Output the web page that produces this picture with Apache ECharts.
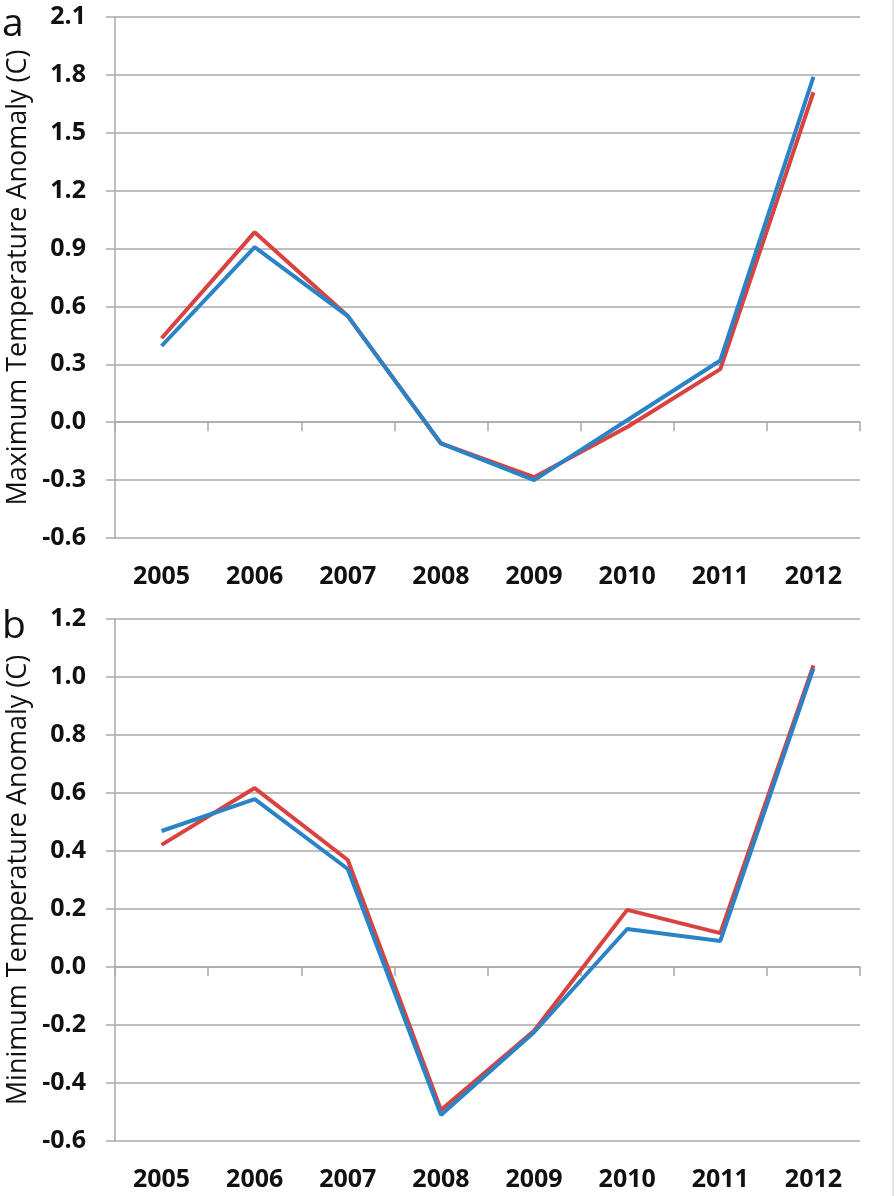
<!DOCTYPE html>
<html>
<head>
<meta charset="utf-8">
<script src="https://cdn.jsdelivr.net/npm/echarts@6/dist/echarts.min.js"></script>
<style>
  html, body { margin: 0; padding: 0; background: #fff; }
  #chart { width: 896px; height: 1196px; }
</style>
</head>
<body>
<div id="chart"></div>
<script>
// years on the category axis
var years = ['2005', '2006', '2007', '2008', '2009', '2010', '2011', '2012'];

// panel a - maximum temperature anomaly
var maxRed  = [0.435, 0.985, 0.55, -0.11, -0.285, -0.025, 0.275, 1.71];
var maxBlue = [0.395, 0.907, 0.55, -0.11, -0.30, 0.01, 0.32, 1.79];

// panel b - minimum temperature anomaly
var minRed  = [0.421, 0.617, 0.369, -0.493, -0.22, 0.197, 0.117, 1.04];
var minBlue = [0.469, 0.579, 0.338, -0.51, -0.225, 0.131, 0.09, 1.03];

var RED = '#d9433f';
var BLUE = '#2a83c6';
var GRID_GRAY = '#a9a9a9';
var FONT = 'Open Sans';

var chart = echarts.init(document.getElementById('chart'));

function zeroAxis(gridIndex) {
  // axis line drawn at y = 0 with tick marks, no labels
  return {
    type: 'category',
    gridIndex: gridIndex,
    data: years,
    boundaryGap: true,
    axisLine: { onZero: true, lineStyle: { color: GRID_GRAY, width: 1.5 } },
    axisTick: { show: true, length: 9, lineStyle: { color: GRID_GRAY, width: 1.5 } },
    axisLabel: { show: false },
    splitLine: { show: false }
  };
}

function labelAxis(gridIndex) {
  // year labels along the bottom of the plot
  return {
    type: 'category',
    gridIndex: gridIndex,
    data: years,
    position: 'bottom',
    axisLine: { show: false, onZero: false },
    axisTick: { show: false },
    axisLabel: {
      margin: 26,
      color: '#111',
      fontFamily: FONT,
      fontWeight: 'bold',
      fontSize: 25
    }
  };
}

function valueAxis(gridIndex, min, max, interval, name) {
  return {
    type: 'value',
    gridIndex: gridIndex,
    min: min,
    max: max,
    interval: interval,
    name: name,
    nameLocation: 'middle',
    nameGap: 83,
    nameTextStyle: { fontFamily: FONT, fontSize: 27, color: '#111' },
    axisLine: { show: true, lineStyle: { color: GRID_GRAY, width: 1.5 } },
    axisTick: { show: true, length: 9, lineStyle: { color: GRID_GRAY, width: 1.5 } },
    axisLabel: {
      margin: 29,
      color: '#111',
      fontFamily: FONT,
      fontWeight: 'bold',
      fontSize: 25,
      formatter: function (v) { return v.toFixed(1); }
    },
    splitLine: { show: true, lineStyle: { color: GRID_GRAY, width: 1.5 } }
  };
}

function lineSeries(data, color, xIdx, yIdx) {
  return {
    type: 'line',
    data: data,
    xAxisIndex: xIdx,
    yAxisIndex: yIdx,
    symbol: 'none',
    lineStyle: { color: color, width: 4 },
    itemStyle: { color: color },
    animation: false
  };
}

var option = {
  backgroundColor: '#fff',
  animation: false,
  grid: [
    { left: 115, right: 36, top: 17, height: 521, containLabel: false, outerBoundsMode: 'none' },
    { left: 115, right: 36, top: 619, height: 522, containLabel: false, outerBoundsMode: 'none' }
  ],
  xAxis: [zeroAxis(0), labelAxis(0), zeroAxis(1), labelAxis(1)],
  yAxis: [
    valueAxis(0, -0.6, 2.1, 0.3, 'Maximum Temperature Anomaly (C)'),
    valueAxis(1, -0.6, 1.2, 0.2, 'Minimum Temperature Anomaly (C)')
  ],
  series: [
    lineSeries(maxRed, RED, 0, 0),
    lineSeries(maxBlue, BLUE, 0, 0),
    lineSeries(minRed, RED, 2, 1),
    lineSeries(minBlue, BLUE, 2, 1)
  ],
  graphic: [
    { type: 'text', left: 2, top: 5, style: { text: 'a', fontFamily: FONT, fontSize: 39, fill: '#111' } },
    { type: 'text', left: 2, top: 607, style: { text: 'b', fontFamily: FONT, fontSize: 39, fill: '#111' } },
    { type: 'line', shape: { x1: 893, y1: 0, x2: 893, y2: 1196 }, style: { stroke: '#e4e4e4', lineWidth: 2 } }
  ]
};

chart.setOption(option);
</script>
</body>
</html>
